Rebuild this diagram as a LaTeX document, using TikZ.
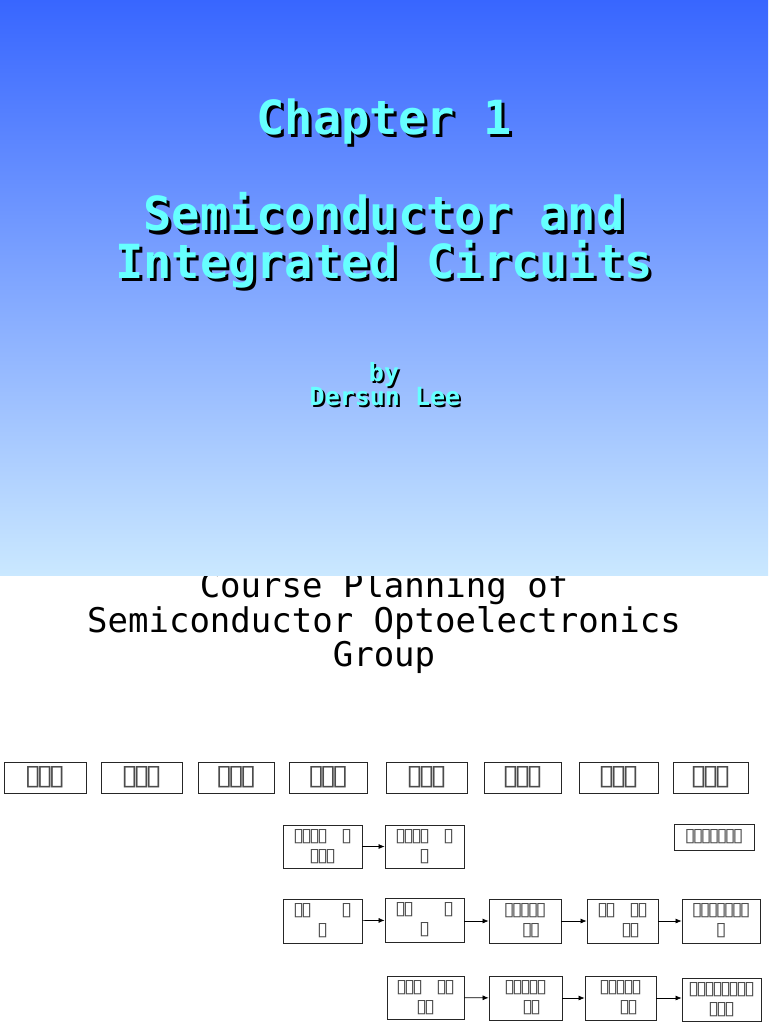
\documentclass[tikz,border=0pt]{standalone}
\usepackage{fontspec}
\usepackage{graphicx}
\newfontfamily\monofont{DejaVu Sans Mono}
\newfontfamily\dejavu{DejaVu Sans}
\usetikzlibrary{arrows.meta}
\definecolor{topblue}{HTML}{3866FF}
\definecolor{botblue}{HTML}{CAE8FF}
\definecolor{titlecyan}{HTML}{66FFFF}
\newcommand{\shadowtext}[4]{% name, x, y, text
  \node[anchor=base, text=black] (#1s) at (#2+3,#3+3) {#4};
  \node[anchor=base, text=titlecyan] (#1) at (#2,#3) {#4};}
\newcommand{\smallshadow}[4]{%
  \node[anchor=base, text=black] (#1s) at (#2+2,#3+2) {#4};
  \node[anchor=base, text=titlecyan] (#1) at (#2,#3) {#4};}
% missing-glyph boxes as printed by the reference
\newcommand{\ta}{\makebox[12pt]{\resizebox{17pt}{18pt}{\dejavu ▯}}}
\newcommand{\tb}{\makebox[8pt]{\resizebox{11pt}{12pt}{\dejavu ▯}}}
\newcommand{\gapw}[1]{\hspace*{#1pt}}
\tikzset{
  hdrbox/.style={draw=black!85, line width=0.8pt, inner sep=0pt, text=black!70},
  cbox/.style={draw=black!85, line width=0.8pt, inner sep=0pt, align=center, text=black!70, font=\fontsize{13}{20}\selectfont},
  arr/.style={-{Latex[length=6pt,width=5pt]}, line width=0.7pt, black}
}
\begin{document}
\begin{tikzpicture}[x=1pt,y=-1pt]
\useasboundingbox (0,0) rectangle (768,1024);
\fill[white] (0,0) rectangle (768,1024);
% course planning text (partly hidden by banner)
\begin{scope}[every node/.style={inner sep=0pt, font=\monofont\fontsize{34}{34}\selectfont, anchor=base}]
\node (c1) at (384,597) {Course Planning of};
\node (c2) at (384,632) {Semiconductor Optoelectronics};
\node (c3) at (384,666) {Group};
\end{scope}
% banner
\shade[top color=topblue, bottom color=botblue] (0,0) rectangle (768,575);
\begin{scope}[every node/.style={inner sep=0pt, font=\monofont\bfseries\fontsize{47}{47}\selectfont}]
\shadowtext{t1}{384}{135}{Chapter 1}
\shadowtext{t2}{384}{231}{Semiconductor and}
\shadowtext{t3}{384}{278}{Integrated Circuits}
\end{scope}
\begin{scope}[every node/.style={inner sep=0pt, font=\monofont\bfseries\fontsize{25}{25}\selectfont}]
\smallshadow{b1}{384}{381}{by}
\smallshadow{b2}{385}{405}{Dersun Lee}
\end{scope}
% header row
\foreach \n/\a/\b in {h1/4/86, h2/101/182, h3/198/274, h4/289/367, h5/386/467, h6/484/561, h7/579/658, h8/673/748}{
  \node[hdrbox, minimum width=\b-\a, minimum height=31] (\n) at ({(\a+\b)/2},777.5) {\ta\ta\ta};
}
% row 2
\node[cbox, minimum width=79, minimum height=43] (a) at (322.5,846.5) {\tb\tb\tb\tb\gapw{16}\tb\\\tb\tb\tb};
\node[cbox, minimum width=79, minimum height=43] (b) at (424.5,846.5) {\tb\tb\tb\tb\gapw{16}\tb\\\tb};
\node[cbox, minimum width=80, minimum height=26] (c) at (714,837) {\tb\tb\tb\tb\tb\tb\tb};
\draw[arr] (a) -- (b);
% row 3
\node[cbox, minimum width=79, minimum height=44] (d) at (322.5,921) {\tb\tb\gapw{32}\tb\\\tb};
\node[cbox, minimum width=79, minimum height=44] (e) at (424.5,920) {\tb\tb\gapw{32}\tb\\\tb};
\node[cbox, minimum width=72, minimum height=44] (f) at (525,921) {\tb\tb\tb\tb\tb\\\gapw{12}\tb\tb};
\node[cbox, minimum width=71, minimum height=44] (g) at (622.5,921) {\tb\tb\gapw{16}\tb\tb\\\gapw{16}\tb\tb};
\node[cbox, minimum width=78, minimum height=44] (h) at (721,921) {\tb\tb\tb\tb\tb\tb\tb\\\tb};
\draw[arr] (d) -- (e);
\draw[arr] (e.east |- f.west) -- (f.west);
\draw[arr] (f) -- (g);
\draw[arr] (g) -- (h);
% row 4
\node[cbox, minimum width=77, minimum height=43] (i) at (425.5,997.5) {\tb\tb\tb\gapw{16}\tb\tb\\\tb\tb};
\node[cbox, minimum width=73, minimum height=44] (j) at (525.5,998) {\tb\tb\tb\tb\tb\\\gapw{12}\tb\tb};
\node[cbox, minimum width=71, minimum height=44] (k) at (620.5,998) {\tb\tb\tb\tb\tb\\\gapw{16}\tb\tb};
\node[cbox, minimum width=79, minimum height=43] (l) at (721.5,999.5) {\tb\tb\tb\tb\tb\tb\tb\tb\\\tb\tb\tb};
\draw[arr] (i) -- (j);
\draw[arr] (j) -- (k);
\draw[arr] (k.east) -- (l.west |- k.east);
\end{tikzpicture}
\end{document}
